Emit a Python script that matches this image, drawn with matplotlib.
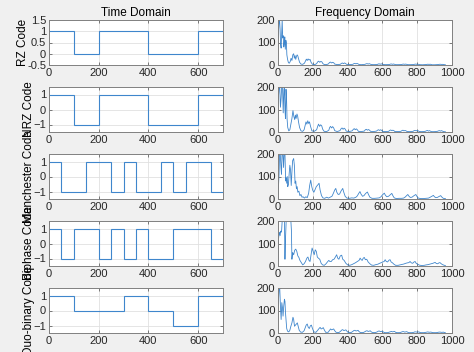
import matplotlib
matplotlib.use("Agg")
import matplotlib.pyplot as plt
import numpy as np

plt.rcParams['font.family'] = ['Liberation Sans', 'DejaVu Sans']

# ---------------- Time-domain signals (edges, levels) ----------------
labels = ["RZ Code", "NRZ Code", "Manchester Code", "Biphase Code", "Duo-binary Code"]

rz_edges = [0, 100, 200, 400, 600, 700]
rz_levels = [1, 0, 1, 0, 1]

nrz_edges = [0, 100, 200, 400, 600, 700]
nrz_levels = [1, -1, 1, -1, 1]

man_edges = [0, 50, 150, 250, 300, 350, 450, 500, 550, 650, 700]
man_levels = [1, -1, 1, -1, 1, -1, 1, -1, 1, -1]

bip_edges = [0, 50, 100, 200, 250, 300, 350, 400, 500, 650, 700]
bip_levels = [1, -1, 1, -1, 1, -1, 1, -1, 1, -1]

duo_edges = [0, 100, 300, 400, 500, 600, 700]
duo_levels = [1, 0, 1, 0, -1, 1]

time_ticks = [0, 200, 400, 600]
rz_yticks = [-0.5, 0, 0.5, 1, 1.5]
rz_yticklabels = ['-0.5', '0', '0.5', '1', '1.5']
bipolar_yticks = [-1, 0, 1]

# ---------------- Frequency-domain spectra ----------------
rz_spec = [(0,95),(3,150),(6,200),(9,200),(12,160),(15,90),(18,75),(21,140),(24,200),(27,120),
    (30,130),(33,80),(36,95),(39,125),(42,70),(45,110),(48,100),(51,45),(55,25),(60,10),(65,8),
    (70,15),(75,30),(80,20),(85,45),(90,50),(94,30),(98,42),(102,25),(106,38),(110,45),(114,40),
    (118,28),(124,12),(132,4),(142,3),(152,8),(158,18),(163,26),(168,20),(173,27),(178,22),
    (184,25),(190,12),(198,3),(212,2),(222,6),(228,14),(234,17),(240,12),(246,16),(252,14),
    (258,6),(266,2),(280,2),(290,5),(296,11),(302,13),(308,9),(314,12),(320,10),(326,4),(340,2),
    (358,3),(364,7),(370,9),(376,6),(382,9),(388,7),(394,3),(410,2),(430,3),(436,6),(442,7),
    (448,5),(454,7),(460,5),(466,2),(480,1.5),(500,3),(506,5),(512,6),(518,4),(524,6),(530,4),
    (536,2),(550,1.5),(570,2),(576,4.5),(582,5),(588,3.5),(594,5),(600,3.5),(606,2),(620,1.5),
    (640,2),(646,4),(652,4.5),(658,3),(664,4.5),(670,3),(676,1.5),(690,1.5),(710,2),(716,3.5),
    (722,4),(728,3),(734,4),(740,3),(746,1.5),(760,1.5),(780,2),(786,3.5),(792,4),(798,3),
    (804,3.5),(810,2.5),(816,1.5),(830,1),(850,2),(856,3),(862,3.5),(868,2.5),(874,3.5),
    (880,2.5),(886,1),(900,1),(920,2),(926,3),(932,3.5),(938,2.5),(944,3),(950,2),(962,1)]

nrz_spec = [(0,100),(3,160),(6,200),(10,200),(14,110),(18,150),(21,200),(26,200),(30,85),
    (34,190),(37,200),(40,100),(43,60),(46,190),(49,150),(52,60),(56,20),(62,5),(68,10),(74,35),
    (80,60),(86,95),(91,70),(96,55),(100,75),(104,60),(109,80),(113,70),(118,45),(124,20),
    (132,5),(142,3),(150,10),(156,30),(161,45),(166,35),(171,50),(176,38),(181,45),(187,25),
    (195,5),(208,3),(222,10),(228,25),(233,35),(239,25),(245,32),(251,28),(257,12),(265,3),
    (280,2),(292,8),(297,20),(302,25),(308,18),(314,24),(320,18),(326,6),(340,2),(356,6),
    (362,14),(368,18),(374,12),(380,17),(386,13),(392,4),(408,2),(426,5),(432,11),(438,15),
    (444,10),(450,14),(456,10),(462,3),(478,2),(496,4),(502,10),(508,12),(514,8),(520,11),
    (526,8),(532,3),(548,2),(566,4),(572,8),(578,10),(584,7),(590,10),(596,7),(602,2),(618,2),
    (636,3),(642,7),(648,9),(654,6),(660,8),(666,6),(672,2),(688,2),(706,3),(712,6),(718,8),
    (724,5),(730,7),(736,5),(742,2),(758,1.5),(776,3),(782,6),(788,7),(794,5),(800,7),(806,5),
    (812,2),(828,1.5),(846,3),(852,5),(858,7),(864,4),(870,6),(876,4),(882,1.5),(898,1.5),
    (916,3),(922,5),(928,6),(934,4),(940,6),(946,4),(952,1.5),(962,1)]

man_spec = [(0,2),(3,60),(6,110),(9,200),(13,200),(17,140),(20,110),(23,200),(28,200),(32,140),
    (35,200),(40,200),(44,80),(47,95),(50,70),(53,100),(56,55),(60,65),(64,110),(68,150),
    (72,130),(76,60),(80,120),(84,170),(90,180),(94,150),(98,70),(102,80),(106,45),(110,55),
    (114,30),(120,35),(126,15),(132,20),(138,8),(144,10),(152,4),(160,10),(168,6),(176,25),
    (182,60),(188,84),(194,55),(200,38),(206,30),(212,40),(220,55),(228,62),(236,70),(242,40),
    (250,15),(258,5),(268,3),(280,8),(290,4),(300,8),(310,12),(318,25),(326,40),(332,47),
    (338,30),(346,20),(354,22),(362,35),(372,47),(378,30),(386,12),(396,4),(410,3),(424,5),
    (436,4),(448,8),(456,14),(464,25),(471,33),(477,22),(486,12),(494,15),(504,25),(514,31),
    (520,20),(528,8),(540,3),(555,3),(570,4),(582,5),(592,10),(600,18),(611,26),(617,17),
    (625,10),(635,12),(644,18),(654,25),(660,15),(668,5),(680,2),(695,3),(710,3),(722,4),
    (730,8),(738,14),(746,20),(752,13),(760,7),(770,8),(780,14),(792,20),(798,12),(806,4),
    (820,2),(835,2),(850,3),(865,4),(875,8),(884,12),(893,16),(899,10),(907,6),(916,7),
    (925,11),(935,15),(941,9),(950,3),(962,2)]

bip_spec = [(0,20),(3,120),(6,140),(9,150),(12,135),(15,155),(18,150),(21,160),(24,200),
    (28,200),(33,200),(37,200),(40,30),(43,120),(47,200),(52,200),(58,200),(64,200),(70,200),
    (74,200),(77,160),(80,30),(84,60),(90,50),(96,70),(102,75),(108,65),(114,45),(120,38),
    (126,25),(134,15),(142,5),(150,10),(158,20),(166,35),(172,40),(178,25),(184,20),(190,50),
    (196,80),(202,65),(208,50),(214,72),(220,65),(226,40),(232,35),(240,30),(248,12),(256,5),
    (266,3),(276,10),(284,18),(292,25),(298,20),(306,20),(314,28),(322,30),(330,40),(337,50),
    (343,35),(350,30),(358,45),(366,48),(372,30),(380,25),(390,12),(400,5),(412,3),(424,6),
    (434,10),(444,14),(452,18),(460,22),(466,25),(472,35),(478,28),(484,25),(490,35),(496,38),
    (502,28),(510,30),(518,18),(528,10),(538,4),(550,3),(562,6),(574,8),(584,12),(594,15),
    (602,18),(610,20),(616,28),(622,20),(630,18),(638,26),(644,28),(650,18),(658,14),(666,8),
    (676,3),(690,3),(702,5),(714,7),(724,9),(734,12),(744,14),(752,15),(759,20),(766,14),
    (774,12),(782,18),(788,20),(794,12),(802,8),(812,4),(826,2),(840,3),(852,5),(862,6),
    (872,8),(882,10),(890,12),(896,14),(903,16),(910,11),(918,10),(925,14),(931,15),(938,10),
    (946,6),(956,3),(962,2)]

duo_spec = [(0,100),(3,150),(6,200),(10,200),(14,120),(18,60),(22,135),(26,110),(29,75),
    (33,120),(37,150),(40,140),(43,90),(46,60),(50,20),(55,8),(62,5),(68,12),(74,30),(80,45),
    (86,70),(90,60),(95,30),(100,35),(106,40),(111,45),(116,30),(122,12),(130,4),(140,3),
    (150,10),(156,22),(162,35),(168,40),(174,25),(180,20),(186,32),(192,35),(198,20),(206,5),
    (218,3),(228,12),(236,20),(242,25),(248,18),(254,20),(260,24),(266,14),(274,3),(288,3),
    (296,12),(302,18),(308,14),(314,16),(320,18),(326,10),(334,3),(350,2),(360,8),(366,13),
    (372,15),(378,11),(384,12),(390,14),(396,8),(404,2),(420,2),(430,7),(436,11),(442,12),
    (448,9),(454,10),(460,12),(466,6),(474,2),(490,2),(500,6),(506,9),(512,10),(518,7),
    (524,8),(530,10),(536,5),(544,2),(560,2),(570,5),(576,8),(582,9),(588,6),(594,7),(600,8),
    (606,4),(614,1.5),(630,1.5),(640,4),(646,6),(652,7),(658,5),(664,6),(670,7),(676,3),
    (684,1.5),(700,1.5),(710,4),(716,6),(722,6),(728,4),(734,5),(740,6),(746,3),(754,1.5),
    (770,1.5),(780,3),(786,5),(792,5),(798,4),(804,4),(810,5),(816,2),(824,1.5),(840,1.5),
    (850,3),(856,4),(862,5),(868,3),(874,4),(880,4),(886,2),(894,1.5),(910,1.5),(920,3),
    (926,4),(932,4),(938,3),(944,3),(950,4),(956,2),(962,1)]

freq_ticks = [0, 200, 400, 600, 800, 1000]
freq_yticks = [0, 100, 200]

# ---------------- Figure ----------------
W, H = 474, 352
fig = plt.figure(figsize=(W / 100, H / 100), dpi=100, facecolor='#f0f0f0')

line_color = '#3f86cc'
axis_color = '#262626'
grid_color = '#e0e0e0'

def style(ax):
    ax.set_facecolor('white')
    for s in ax.spines.values():
        s.set_color('#808080')
        s.set_linewidth(0.7)
    ax.tick_params(direction='in', length=2.5, width=0.6, color='#666666',
                   labelsize=8, labelcolor=axis_color, pad=2,
                   top=True, right=True)
    ax.grid(True, color=grid_color, linewidth=0.6)
    ax.set_axisbelow(True)

tops = [20, 87, 154, 221, 288]
ph = 45
left_l, left_r, pw = 49, 278, 174

time_data = [(rz_edges, rz_levels), (nrz_edges, nrz_levels), (man_edges, man_levels),
             (bip_edges, bip_levels), (duo_edges, duo_levels)]
spectra = [rz_spec, nrz_spec, man_spec, bip_spec, duo_spec]

for i in range(5):
    b = 1 - (tops[i] + ph) / H
    axl = fig.add_axes([left_l / W, b, pw / W, ph / H])
    style(axl)
    edges, levels = time_data[i]
    axl.stairs(levels, edges, baseline=None, color=line_color, linewidth=0.8)
    axl.set_xlim(0, 700)
    axl.set_xticks(time_ticks)
    if i == 0:
        axl.set_ylim(-0.5, 1.5)
        axl.set_yticks(rz_yticks)
        axl.set_yticklabels(rz_yticklabels)
        axl.set_title("Time Domain", fontsize=8.5, color='black', pad=3)
    else:
        axl.set_ylim(-1.5, 1.5)
        axl.set_yticks(bipolar_yticks)
    axl.set_ylabel(labels[i], fontsize=8.5, color='black', labelpad=-1)

    axr = fig.add_axes([left_r / W, b, pw / W, ph / H])
    style(axr)
    f, a = zip(*spectra[i])
    axr.plot(f, a, color=line_color, linewidth=0.6)
    axr.set_xlim(0, 1000)
    axr.set_ylim(0, 200)
    axr.set_xticks(freq_ticks)
    axr.set_yticks(freq_yticks)
    if i == 0:
        axr.set_title("Frequency Domain", fontsize=8.5, color='black', pad=3)

fig.savefig("out.png", dpi=100, facecolor=fig.get_facecolor())
